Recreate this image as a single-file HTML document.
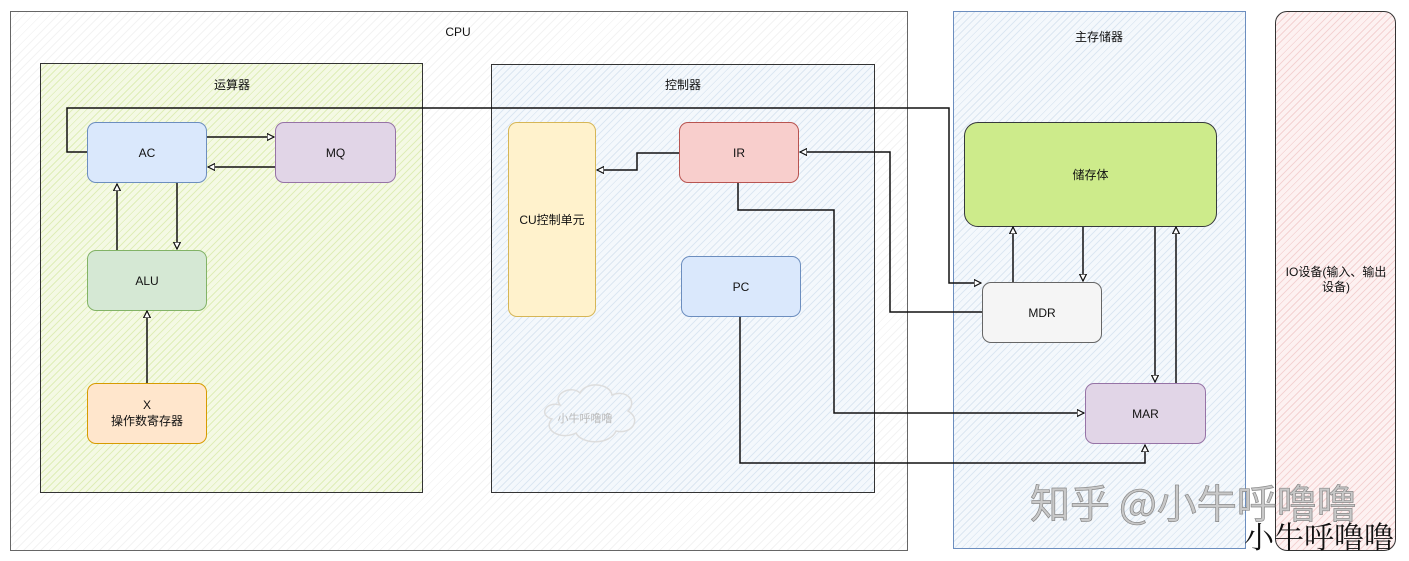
<!DOCTYPE html>
<html><head><meta charset="utf-8"><style>
body{margin:0;width:1409px;height:561px;background:#fff;overflow:hidden;position:relative;font-family:"Liberation Sans","Noto Sans CJK SC",sans-serif;}
.b{position:absolute;box-sizing:border-box;}
.n{position:absolute;box-sizing:border-box;border-radius:9px;display:flex;align-items:center;justify-content:center;text-align:center;font-size:12px;color:#111;border:1px solid;}
.t{position:absolute;font-size:12px;color:#111;transform:translateX(-50%);white-space:nowrap;}
</style></head><body>
<div class="b" style="left:10px;top:11px;width:898px;height:540px;border:1px solid #666;background:repeating-linear-gradient(135deg,#fff 0 5px,#f3f3f3 5px 6px);"></div>
<div class="t" style="left:458px;top:25px;">CPU</div>
<div class="b" style="left:40px;top:63px;width:383px;height:430px;border:1px solid #333;background:repeating-linear-gradient(135deg,#f4f9e4 0 4px,#dfeeb8 4px 5px);"></div>
<div class="t" style="left:232px;top:76px;">运算器</div>
<div class="b" style="left:491px;top:64px;width:384px;height:429px;border:1px solid #333;background:repeating-linear-gradient(135deg,#f4f8fc 0 4px,#dce7f2 4px 5px);"></div>
<div class="t" style="left:683px;top:76px;">控制器</div>
<div class="b" style="left:953px;top:11px;width:293px;height:538px;border:1px solid #6c8ebf;background:repeating-linear-gradient(135deg,#f4f8fc 0 4px,#dce7f2 4px 5px);"></div>
<div class="t" style="left:1099px;top:28px;">主存储器</div>
<div class="b" style="left:1275px;top:11px;width:121px;height:540px;border:1px solid #333;border-radius:12px;background:repeating-linear-gradient(135deg,#fdf1f1 0 4px,#f4d3d3 4px 5px);"></div>
<div class="n" style="left:1278px;top:240px;width:116px;height:80px;border:none;background:none;font-size:12px;padding:0 4px;line-height:15px;">IO设备(输入、输出设备)</div>

<div class="n" style="left:87px;top:122px;width:120px;height:61px;background:#dae8fc;border-color:#6c8ebf;">AC</div>
<div class="n" style="left:275px;top:122px;width:121px;height:61px;background:#e1d5e7;border-color:#9673a6;">MQ</div>
<div class="n" style="left:87px;top:250px;width:120px;height:61px;background:#d5e8d4;border-color:#82b366;">ALU</div>
<div class="n" style="left:87px;top:383px;width:120px;height:61px;background:#ffe6cc;border-color:#d79b00;">X<br>操作数寄存器</div>
<div class="n" style="left:508px;top:122px;width:88px;height:195px;background:#fff2cc;border-color:#d6b656;">CU控制单元</div>
<div class="n" style="left:679px;top:122px;width:120px;height:61px;background:#f8cecc;border-color:#b85450;">IR</div>
<div class="n" style="left:681px;top:256px;width:120px;height:61px;background:#dae8fc;border-color:#6c8ebf;">PC</div>
<div class="n" style="left:964px;top:122px;width:253px;height:105px;background:#cdeb8b;border-color:#36393d;border-radius:14px;">储存体</div>
<div class="n" style="left:982px;top:282px;width:120px;height:61px;background:#f5f5f5;border-color:#666;">MDR</div>
<div class="n" style="left:1085px;top:383px;width:121px;height:61px;background:#e1d5e7;border-color:#9673a6;">MAR</div>

<svg width="1409" height="561" style="position:absolute;left:0;top:0;">
<defs><marker id="a" markerWidth="8" markerHeight="8" refX="7" refY="4" orient="auto" markerUnits="userSpaceOnUse"><path d="M0,0.5 L7,4 L0,7.5 Z" fill="#fff" stroke="#111" stroke-width="1.2"/></marker></defs>
<g fill="none" stroke="#111" stroke-width="1.5" marker-end="url(#a)">
<path d="M87,152 H67 V108 H949 V283 H981"/>
<path d="M207,137 H274"/>
<path d="M275,167 H208"/>
<path d="M177,183 V249"/>
<path d="M117,250 V184"/>
<path d="M147,383 V311"/>
<path d="M679,153 H637 V170 H597"/>
<path d="M982,312 H890 V152 H800"/>
<path d="M738,183 V210 H834 V413 H1084"/>
<path d="M740,317 V463 H1145 V445"/>
<path d="M1013,282 V227"/>
<path d="M1083,227 V281"/>
<path d="M1155,227 V382"/>
<path d="M1176,383 V227"/>
</g>
<path d="M560,405 c-8,-12 12,-20 20,-12 c6,-12 30,-10 32,2 c14,-6 26,6 16,16 c14,8 4,24 -12,20 c-6,14 -34,14 -40,2 c-16,8 -34,-4 -24,-14 c-14,-4 -6,-18 8,-14 z" fill="none" stroke="#ddd" stroke-width="1.5"/>
<text x="585" y="422" font-size="11" fill="#bbb" text-anchor="middle" font-family="Liberation Sans,Noto Sans CJK SC,sans-serif">小牛呼噜噜</text>
<text x="1030" y="518" font-size="40" fill="#c8c8c8" stroke="#888" stroke-width="0.7" font-family="Noto Sans CJK SC,sans-serif">知乎 @小牛呼噜噜</text>
<text x="1244" y="548" font-size="30" fill="#111" font-family="Noto Serif CJK SC,serif">小牛呼噜噜</text>
</svg>
</body></html>
